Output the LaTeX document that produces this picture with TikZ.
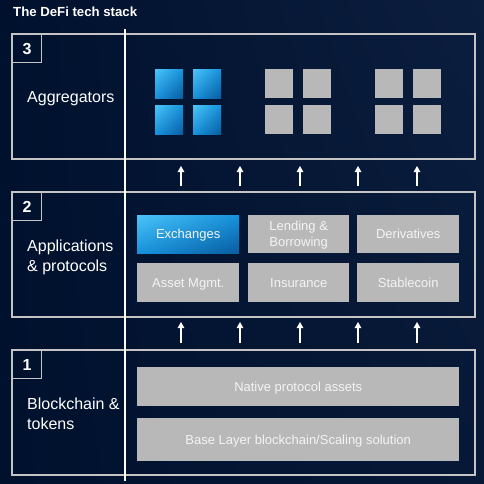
\documentclass[tikz,border=0pt]{standalone}
\usepackage{fontspec}
\setmainfont{Liberation Sans}
\usetikzlibrary{arrows.meta,shadings}
\definecolor{bgA}{HTML}{00112E}
\definecolor{bgB}{HTML}{0C1E3E}
\definecolor{bgC}{HTML}{061836}
\definecolor{frame}{HTML}{C4C4C4}
\definecolor{tile}{HTML}{B8B8B8}
\definecolor{tiletext}{HTML}{F4F4F4}
\definecolor{blueL}{HTML}{4CC3F7}
\definecolor{blueM}{HTML}{1592DD}
\definecolor{blueD}{HTML}{0A5C9E}
\tikzset{
  layerbox/.style={draw=frame, line width=1.2pt},
  numbox/.style={draw=frame, line width=1.2pt, minimum width=29pt, minimum height=28pt, inner sep=0pt, anchor=north west, text=white, font=\fontsize{16}{16}\selectfont\bfseries},
  lefttext/.style={anchor=west, align=left, text=white, inner sep=0pt, font=\fontsize{16}{20}\selectfont},
  graytile/.style={fill=tile, draw=none, inner sep=0pt, text depth=0pt, anchor=north west, text=tiletext, align=center, font=\fontsize{13}{16}\selectfont},
  bluetile/.style={upper left=blueL, upper right=blueM, lower left=blueM, lower right=blueD, draw=none, inner sep=0pt, text depth=0pt, anchor=north west, text=tiletext, align=center, font=\fontsize{13}{16}\selectfont},
  upar/.style={draw=white, line width=1.1pt, -{Triangle[width=6.5pt,length=6pt]}},
}
\begin{document}
\begin{tikzpicture}[x=1pt,y=-1pt]
\useasboundingbox (0,0) rectangle (484,483);
\shade[upper left=bgA, upper right=bgB, lower left=bgA, lower right=bgC] (0,0) rectangle (484,483);

\node[anchor=west, text=white, inner sep=0pt, font=\fontsize{13.2}{15}\selectfont\bfseries] (title) at (13,12) {The DeFi tech stack};

% layers
\draw[layerbox] (12,34) rectangle (475,159);
\draw[layerbox] (12,192) rectangle (475,317);
\draw[layerbox] (12,350) rectangle (475,475);

\node[numbox] (n3) at (12,34) {3};
\node[numbox] (n2) at (12,192) {2};
\node[numbox] (n1) at (12,350) {1};

\node[lefttext] (l3) at (27,99) {Aggregators};
\node[lefttext] (l2) at (27,257) {Applications\\\& protocols};
\node[lefttext] (l1) at (27,414) {Blockchain \&\\tokens};

% vertical divider
\coordinate (vtop) at (124.5,29);
\coordinate (vbot) at (124.5,481);
\draw[white, line width=2pt] (vtop) -- (vbot);

% aggregator squares
\foreach \x/\n in {155/a,193/b}{
  \foreach \y/\m in {69/1,105/2}{
    \node[bluetile, minimum width=28pt, minimum height=29pt] (sq\n\m) at (\x,\y) {};
  }
}
\foreach \x/\n in {265/c,303/d,375/e,413/f}{
  \foreach \y/\m in {69/1,105/2}{
    \node[graytile, minimum width=28pt, minimum height=29pt] (sq\n\m) at (\x,\y) {};
  }
}

% application tiles
\node[bluetile, minimum width=102pt, minimum height=38pt] (exch) at (137,215) {Exchanges};
\node[graytile, minimum width=101pt, minimum height=38pt] (lend) at (248,215) {Lending \&\\Borrowing};
\node[graytile, minimum width=102pt, minimum height=38pt] (deriv) at (357,215) {Derivatives};
\node[graytile, minimum width=102pt, minimum height=39pt] (asset) at (137,263) {Asset Mgmt.};
\node[graytile, minimum width=101pt, minimum height=39pt] (insur) at (248,263) {Insurance};
\node[graytile, minimum width=102pt, minimum height=39pt] (stab) at (357,263) {Stablecoin};

% blockchain tiles
\node[graytile, minimum width=322pt, minimum height=39pt] (native) at (137,367) {Native protocol assets};
\node[graytile, minimum width=322pt, minimum height=43pt] (base) at (137,418) {Base Layer blockchain/Scaling solution};

% arrows
\foreach \x [count=\i] in {181,240,300,358,417}{
  \coordinate (a\i s) at (\x,186);
  \coordinate (a\i e) at (\x,166);
  \draw[upar] (a\i s) -- (a\i e);
  \coordinate (b\i s) at (\x,343);
  \coordinate (b\i e) at (\x,322);
  \draw[upar] (b\i s) -- (b\i e);
}
\end{tikzpicture}
\end{document}
